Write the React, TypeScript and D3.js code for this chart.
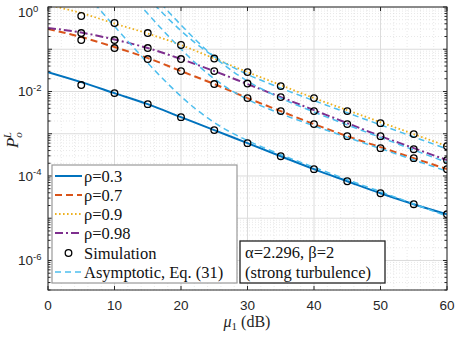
import React from 'react';
import * as d3 from 'd3';

const W = 474;
const H = 356;

// SNR grid for analytical curves (dB)
const snr = [0, 5, 10, 15, 20, 25, 30, 35, 40, 45, 50, 55, 60];
const curveRho03 = [0.0288, 0.0167, 0.00916, 0.00502, 0.00247, 0.00122, 0.000598, 0.000294, 0.000145, 7.5e-5, 3.9e-5, 2.15e-5, 1.24e-5];
const curveRho07 = [0.301, 0.1945, 0.1127, 0.0618, 0.0304, 0.015, 0.00698, 0.00343, 0.00169, 0.000877, 0.000481, 0.000264, 0.000145];
const curveRho09 = [1.115, 0.721, 0.406, 0.2355, 0.126, 0.0603, 0.0288, 0.0142, 0.00698, 0.00362, 0.00188, 0.00098, 0.000508];
const curveRho098 = [0.318, 0.249, 0.17, 0.1067, 0.0586, 0.0304, 0.015, 0.00736, 0.00362, 0.00178, 0.000877, 0.000456, 0.000237];

// Simulation points
const simSnr = [5, 10, 15, 20, 25, 30, 35, 40, 45, 50, 55, 60];
const simRho03 = [0.0142, 0.00916, 0.00502, 0.00247, 0.00122, 0.000598, 0.000294, 0.000145, 7.5e-5, 3.9e-5, 2.15e-5, 1.24e-5];
const simRho07 = [0.165, 0.1067, 0.0586, 0.0304, 0.015, 0.00698, 0.00343, 0.00169, 0.000877, 0.000456, 0.000264, 0.000145];
const simRho09 = [0.612, 0.418, 0.242, 0.126, 0.0603, 0.0288, 0.0134, 0.00698, 0.00343, 0.00178, 0.00098, 0.000508];
const simRho098 = [0.242, 0.165, 0.1067, 0.0586, 0.0304, 0.0154, 0.00736, 0.00343, 0.00169, 0.000877, 0.000431, 0.000237];

// Asymptotic curves, Eq. (31)
const asymSnr03 = [7, 7.5, 10, 12.5, 15, 17.5, 20, 22.5, 25, 27.5, 30, 35, 40, 45, 50, 55, 60];
const asymRho03 = [1.19, 0.971, 0.349, 0.127, 0.0473, 0.0184, 0.00768, 0.00355, 0.00185, 0.00108, 0.00069, 0.000321, 0.000161, 8.2e-5, 4.24e-5, 2.18e-5, 1.12e-5];
const asymSnr07 = [13.5, 15, 17.5, 20, 22.5, 25, 27.5, 30, 35, 40, 45, 50, 55, 60];
const asymRho07 = [1.27, 0.694, 0.258, 0.101, 0.0425, 0.02, 0.01075, 0.0065, 0.00297, 0.00154, 0.00082, 0.000445, 0.00024, 0.00013];
const asymSnr09 = [16, 17.5, 20, 22.5, 25, 27.5, 30, 35, 40, 45, 50, 55, 60];
const asymRho09 = [1.14, 0.653, 0.274, 0.1275, 0.0672, 0.0395, 0.0254, 0.012, 0.00608, 0.00313, 0.00162, 0.00084, 0.000437];
const asymSnr098 = [17, 17.5, 20, 22.5, 25, 27.5, 30, 35, 40, 45, 50, 55, 60];
const asymRho098 = [1.21, 0.989, 0.375, 0.1506, 0.0658, 0.0321, 0.01765, 0.00696, 0.00327, 0.00162, 0.000817, 0.000413, 0.000209];

const xTicks = [0, 10, 20, 30, 40, 50, 60];
const yLabelExps = [0, -2, -4, -6];
const legendLabels = ['ρ=0.3', 'ρ=0.7', 'ρ=0.9', 'ρ=0.98', 'Simulation', 'Asymptotic, Eq. (31)'];

const C_BLUE = '#0072BD';
const C_RED = '#D95319';
const C_YEL = '#EDB120';
const C_PUR = '#7E2F8E';
const C_CYAN = '#4DBEEE';

const PL = 48, PR = 447, PT = 7, PB = 290;

export default function App() {
  const x = d3.scaleLinear().domain([0, 60]).range([PL, PR]);
  const y = d3.scaleLog().domain([2e-7, 1]).range([PB, PT]);

  const line = d3
    .line<[number, number]>()
    .x((d) => x(d[0]))
    .y((d) => y(d[1]))
    .curve(d3.curveMonotoneX);

  const zip = (xs: number[], ys: number[]) => xs.map((v, i) => [v, ys[i]] as [number, number]);

  const series = [
    { xs: snr, ys: curveRho03, color: C_BLUE, dash: 'none', w: 2 },
    { xs: snr, ys: curveRho07, color: C_RED, dash: '7,4', w: 2 },
    { xs: snr, ys: curveRho09, color: C_YEL, dash: '1.6,2.4', w: 1.8 },
    { xs: snr, ys: curveRho098, color: C_PUR, dash: '8,3,2,3', w: 2 },
  ];
  const asyms = [
    { xs: asymSnr03, ys: asymRho03 },
    { xs: asymSnr07, ys: asymRho07 },
    { xs: asymSnr09, ys: asymRho09 },
    { xs: asymSnr098, ys: asymRho098 },
  ];
  const sims = [simRho03, simRho07, simRho09, simRho098];

  // log ticks
  const majorY: number[] = [];
  const minorY: number[] = [];
  for (let e = -7; e <= 0; e++) {
    const p = Math.pow(10, e);
    if (p >= 2e-7 && p <= 1) majorY.push(p);
    for (let k = 2; k <= 9; k++) {
      const v = k * p;
      if (v >= 2e-7 * 0.999 && v < 1) minorY.push(v);
    }
  }
  const minorX: number[] = [];
  for (let v = 0; v <= 60; v += 2) if (v % 10 !== 0) minorX.push(v);

  const axisColor = '#262626';
  const tickFont = "'Liberation Sans', Arial, Helvetica, sans-serif";
  const serif = "'Liberation Serif', 'Times New Roman', serif";

  const legRows = [176, 195, 214, 233, 253, 272];

  return (
    <svg width={W} height={H} style={{ position: 'absolute', left: 0, top: 0, background: '#fff' }}>
      <defs>
        <clipPath id="plotclip">
          <rect x={PL} y={PT} width={PR - PL} height={PB - PT} />
        </clipPath>
      </defs>
      <rect x={0} y={0} width={W} height={H} fill="#fff" />
      {/* minor grid */}
      <g stroke="#d8d8d8" strokeWidth={0.6} strokeDasharray="1,2">
        {minorY.map((v, i) => (
          <line key={'my' + i} x1={PL} x2={PR} y1={y(v)} y2={y(v)} />
        ))}
        {minorX.map((v, i) => (
          <line key={'mx' + i} x1={x(v)} x2={x(v)} y1={PT} y2={PB} />
        ))}
      </g>
      {/* major grid */}
      <g stroke="#dcdcdc" strokeWidth={1}>
        {majorY.map((v, i) => (
          <line key={'gy' + i} x1={PL} x2={PR} y1={y(v)} y2={y(v)} />
        ))}
        {xTicks.map((v, i) => (
          <line key={'gx' + i} x1={x(v)} x2={x(v)} y1={PT} y2={PB} />
        ))}
      </g>

      <g clipPath="url(#plotclip)">
        {series.map((s, i) => (
          <path
            key={'s' + i}
            d={line(zip(s.xs, s.ys)) || ''}
            fill="none"
            stroke={s.color}
            strokeWidth={s.w}
            strokeDasharray={s.dash}
          />
        ))}
        {asyms.map((s, i) => (
          <path
            key={'a' + i}
            d={line(zip(s.xs, s.ys)) || ''}
            fill="none"
            stroke={C_CYAN}
            strokeWidth={1.5}
            strokeDasharray="6,4"
          />
        ))}
        {sims.map((arr, i) =>
          arr.map((v, j) => (
            <circle key={'c' + i + '-' + j} cx={x(simSnr[j])} cy={y(v)} r={3.3} fill="none" stroke="#000" strokeWidth={1.3} />
          ))
        )}
      </g>

      {/* axes box */}
      <rect x={PL} y={PT} width={PR - PL} height={PB - PT} fill="none" stroke={axisColor} strokeWidth={1} />
      {/* ticks */}
      <g stroke={axisColor} strokeWidth={1}>
        {xTicks.map((v, i) => (
          <g key={'xt' + i}>
            <line x1={x(v)} x2={x(v)} y1={PB} y2={PB - 4} />
            <line x1={x(v)} x2={x(v)} y1={PT} y2={PT + 4} />
          </g>
        ))}
        {majorY.map((v, i) => (
          <g key={'yt' + i}>
            <line x1={PL} x2={PL + 4} y1={y(v)} y2={y(v)} />
            <line x1={PR} x2={PR - 4} y1={y(v)} y2={y(v)} />
          </g>
        ))}
        {minorY.map((v, i) => (
          <g key={'ymt' + i}>
            <line x1={PL} x2={PL + 2.5} y1={y(v)} y2={y(v)} />
            <line x1={PR} x2={PR - 2.5} y1={y(v)} y2={y(v)} />
          </g>
        ))}
      </g>
      {/* tick labels */}
      <g fill="#262626" fontFamily={tickFont} fontSize={13.5}>
        {xTicks.map((v, i) => (
          <text key={'xl' + i} x={x(v)} y={310} textAnchor="middle">
            {v}
          </text>
        ))}
        {yLabelExps.map((e, i) => (
          <text key={'yl' + i} x={18} y={e === 0 ? 17 : y(Math.pow(10, e)) + 5}>
            10
            <tspan fontSize={9.5} dy={-5.5}>
              {e === 0 ? '0' : '-' + Math.abs(e)}
            </tspan>
          </text>
        ))}
      </g>
      {/* axis labels */}
      <text x={247} y={327} textAnchor="middle" fontFamily={serif} fontSize={16} fill="#262626">
        <tspan fontStyle="italic">μ</tspan>
        <tspan fontSize={11} dy={3}>1</tspan>
        <tspan dy={-3}> (dB)</tspan>
      </text>
      <text transform="translate(18,140) rotate(-90)" textAnchor="middle" fontFamily={serif} fontSize={17} fill="#262626">
        <tspan fontStyle="italic">P</tspan>
        <tspan fontStyle="italic" fontSize={11} dy={4}>o</tspan>
        <tspan fontStyle="italic" fontSize={11} dy={-11} dx={-6}>L</tspan>
      </text>

      {/* legend */}
      <rect x={52} y={165} width={185} height={118} fill="#fff" stroke="#9a9a9a" strokeWidth={1.2} />
      {series.map((s, i) => (
        <line
          key={'ls' + i}
          x1={55}
          x2={82}
          y1={legRows[i]}
          y2={legRows[i]}
          stroke={s.color}
          strokeWidth={s.w}
          strokeDasharray={s.dash}
        />
      ))}
      <circle cx={68.5} cy={legRows[4]} r={3.3} fill="none" stroke="#000" strokeWidth={1.3} />
      <line x1={55} x2={82} y1={legRows[5]} y2={legRows[5]} stroke={C_CYAN} strokeWidth={1.5} strokeDasharray="6,4" />
      <g fontFamily={serif} fontSize={16.5} fill="#111">
        {legendLabels.map((t, i) => (
          <text key={'lt' + i} x={84} y={legRows[i] + 5.5}>
            {t}
          </text>
        ))}
      </g>

      {/* annotation box */}
      <rect x={240} y={241} width={145} height={42} fill="#fff" stroke="#222" strokeWidth={1.3} />
      <g fontFamily={serif} fontSize={16.5} fill="#111">
        <text x={245} y={258}>α=2.296, β=2</text>
        <text x={245} y={278}>(strong turbulence)</text>
      </g>
    </svg>
  );
}
